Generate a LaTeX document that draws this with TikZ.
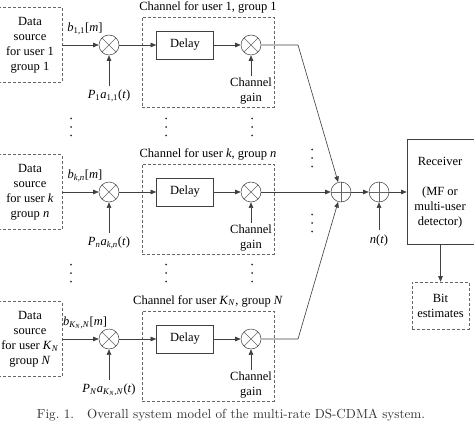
\documentclass[tikz,border=0pt]{standalone}
\usepackage{fontspec}
\newfontfamily\diafont{Liberation Serif}
\usetikzlibrary{arrows.meta}

\newcommand{\var}[1]{\textit{#1}}
\newcommand{\sub}[1]{\textsubscript{#1}}

\begin{document}
\begin{tikzpicture}[
    x=0.8pt,y=-0.8pt,
    font=\diafont\fontsize{10}{12}\selectfont,
    >={Triangle[length=4.5pt,width=3.6pt]},
    wire/.style={draw=black!75,line width=0.5pt},
    dbox/.style={draw=black!60,dash pattern=on 2.4pt off 1.6pt,
      align=center,inner sep=0pt},
    sbox/.style={draw=black!75,align=center,inner sep=0pt},
    mixer/.style={circle,draw=black!75,minimum size=16pt,inner sep=0pt,
      path picture={\draw[black!60,line width=0.4pt]
        (path picture bounding box.north west) -- (path picture bounding box.south east)
        (path picture bounding box.north east) -- (path picture bounding box.south west);}},
    adder/.style={circle,draw=black!75,minimum size=16pt,inner sep=0pt,
      path picture={\draw[black!60,line width=0.4pt]
        (path picture bounding box.north) -- (path picture bounding box.south)
        (path picture bounding box.west) -- (path picture bounding box.east);}},
  ]
    \useasboundingbox (0,0) rectangle (474,421);

    % one row per user
    \foreach \row/\y/\usr/\grp/\bb/\pa in {
      1/45/{1}/{1}/{\var{b}\sub{1,1}[\var{m}]}/{\var{P}\sub{1}\var{a}\sub{1,1}(\var{t})},
      2/192/{\var{k}}/{\var{n}}/{\var{b}\sub{\var{k,n}}[\var{m}]}/{\var{P}\sub{\var{n}}\var{a}\sub{\var{k,n}}(\var{t})},
      3/339/{\var{K}\sub{\var{N}}}/{\var{N}}/{\var{b}\sub{\var{K}\sub{\var{N}},\var{N}}[\var{m}]}/{\var{P}\sub{\var{N}}\var{a}\sub{\var{K}\sub{\var{N}},\var{N}}(\var{t})}} {
      \node[dbox,minimum width=51.2pt,minimum height=60pt] (src\row) at (30,\y)
        {Data\\source\\for user \usr\\group \grp};
      \node[mixer] (mul\row) at (109,\y) {};
      \node (b\row) at (85,\y-16) {\bb};
      \node (pa\row) at (109,\y+51) {\pa};
      \node[dbox,minimum width=105.6pt,minimum height=72pt] (ch\row) at (208,\y+17) {};
      \node[anchor=south,inner sep=1pt,yshift=2pt] (chl\row) at (ch\row.north)
        {Channel for user \usr, group \grp};
      \node[sbox,minimum width=45.6pt,minimum height=22.4pt] (dly\row) at (185,\y) {Delay};
      \node[mixer] (gain\row) at (251,\y) {};
      \node[align=center,inner sep=1pt] (gl\row) at (251,\y+46) {Channel\\gain};
      \draw[wire,->] (src\row) -- (mul\row);
      \draw[wire,->] (pa\row) -- (mul\row);
      \draw[wire,->] (mul\row) -- (dly\row);
      \draw[wire,->] (dly\row) -- (gain\row);
      \draw[wire,->] (gl\row) -- (gain\row);
    }

    % vertical dots between the rows
    \foreach \x/\y in {71/127,166/127,252/127,71/273,166/273,252/273,312/158,312/223}
      \foreach \d in {-8.5,0,8.5}
        \fill[black!80] (\x,\y+\d) circle (0.8pt);

    \node[adder] (sum) at (341,192) {};
    \node[adder] (add) at (379,192) {};
    \node (noise) at (379,240) {\var{n}(\var{t})};
    \node[sbox,minimum width=120pt,minimum height=84pt] (rx) at (482,191.5) {};
    \node[align=center] (rxt) at (440,192.5)
      {Receiver\\[12pt](MF or\\multi-user\\detector)};
    \node[dbox,minimum width=45.6pt,minimum height=37.6pt] (bit) at (440.5,305.5)
      {Bit\\estimates};
    \coordinate (bend1) at (298,45);
    \coordinate (bend3) at (298,339);

    \draw[wire,->] (gain1) -- (bend1) -- (sum);
    \draw[wire,->] (gain2) -- (sum);
    \draw[wire,->] (gain3) -- (bend3) -- (sum);
    \draw[wire,->] (sum) -- (add);
    \draw[wire,->] (noise) -- (add);
    \draw[wire,->] (add) -- (add -| rx.west);
    \draw[wire,->] (bit.north |- rx.south) -- (bit);

    \node[anchor=base,text=black!80,font=\rmfamily\fontsize{10.5}{12}\selectfont] (cap) at (231,418)
      {Fig.~1.\quad Overall system model of the multi-rate DS-CDMA system.};
  \end{tikzpicture}
\end{document}
